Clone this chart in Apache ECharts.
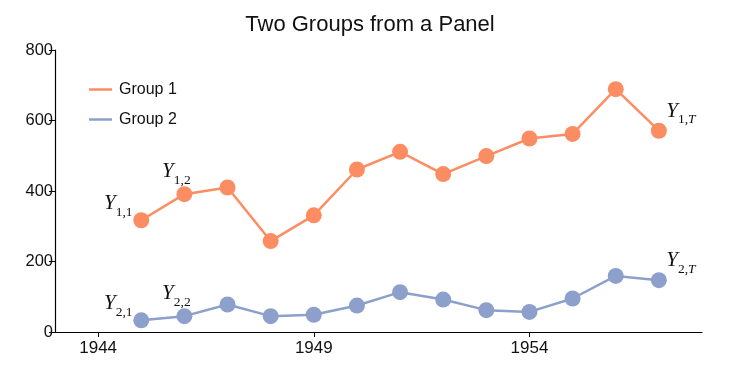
<!DOCTYPE html>
<html><head><meta charset="utf-8">
<script src="https://cdn.jsdelivr.net/npm/echarts@6/dist/echarts.min.js"></script>
<style>html,body{margin:0;padding:0;background:#fff}#c{width:740px;height:370px}</style>
</head><body><div id="c"></div>
<script>
const years = [1945,1946,1947,1948,1949,1950,1951,1952,1953,1954,1955,1956,1957];
const group1 = [317,391,410,258,331,461,511,448,499,549,562,689,571];
const group2 = [33,45,78,45,49,75,113,92,62,57,95,159,147];
const xTicks = [1944,1949,1954];
const yTicks = [0,200,400,600,800];
const seriesNames = ['Group 1','Group 2'];
const labels1 = {0:['1,1',''],1:['1,2',''],12:['1,','T']};
const labels2 = {0:['2,1',''],1:['2,2',''],12:['2,','T']};

const labelOffsets = {0:[-23,-14],1:[-8,-20],12:[22,-17]};
const rich = {
  y:{fontFamily:'Liberation Serif',fontStyle:'italic',fontSize:21,color:'#111',lineHeight:26,verticalAlign:'top'},
  s:{fontFamily:'Liberation Serif',fontSize:13.5,color:'#111',lineHeight:26,verticalAlign:'bottom'},
  t:{fontFamily:'Liberation Serif',fontStyle:'italic',fontSize:13.5,color:'#111',lineHeight:26,verticalAlign:'bottom'}
};
function buildData(vals, lab){
  return vals.map((v,i)=>{
    const item = {value:[years[i], v]};
    if (lab[i]) {
      const parts = lab[i];
      item.label = {show:true, position:'inside', offset:labelOffsets[i], align:'center', verticalAlign:'middle',
        formatter:'{y|Y}{s|'+parts[0]+'}'+(parts[1]?'{t|'+parts[1]+'}':''), rich:rich};
    }
    return item;
  });
}
const chart = echarts.init(document.getElementById('c'));
chart.setOption({
  animation:false,
  title:{text:'Two Groups from a Panel',left:'center',top:9,textStyle:{fontFamily:'Liberation Sans',fontSize:22,fontWeight:'normal',color:'#111'}},
  legend:{orient:'vertical',left:89,top:80.5,padding:0,icon:'rect',itemWidth:23,itemHeight:2.5,itemGap:12,
    textStyle:{fontFamily:'Liberation Sans',fontSize:16,color:'#111',lineHeight:18,padding:[0,0,0,2]},data:seriesNames},
  grid:{left:55,right:38,top:50,bottom:38,containLabel:false},
  xAxis:{type:'value',min:1943,max:1958,
    axisLine:{lineStyle:{color:'#000',width:1.2}},
    axisTick:{show:true,customValues:xTicks,length:5,lineStyle:{color:'#000'}},
    axisLabel:{customValues:xTicks,formatter:v=>String(v),color:'#111',fontFamily:'Liberation Sans',fontSize:17,margin:8},
    splitLine:{show:false}},
  yAxis:{type:'value',min:0,max:800,interval:200,
    axisLine:{show:true,lineStyle:{color:'#000',width:1.2}},
    axisTick:{show:true,length:6,lineStyle:{color:'#000'}},
    axisLabel:{color:'#111',fontFamily:'Liberation Sans',fontSize:16.5,margin:2},
    splitLine:{show:false}},
  series:[
    {name:seriesNames[0],type:'line',data:buildData(group1,labels1),symbol:'circle',symbolSize:16,
      lineStyle:{color:'#fc8d62',width:2.5},itemStyle:{color:'#fc8d62'},z:3},
    {name:seriesNames[1],type:'line',data:buildData(group2,labels2),symbol:'circle',symbolSize:16,
      lineStyle:{color:'#8da0cb',width:2.5},itemStyle:{color:'#8da0cb'},z:3}
  ]
});
</script></body></html>
